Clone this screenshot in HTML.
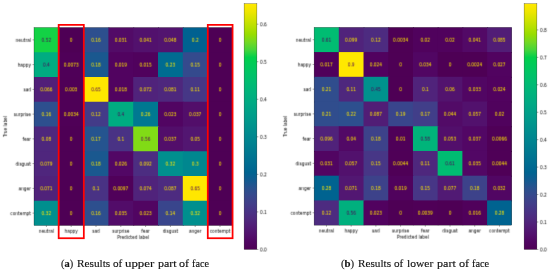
<!DOCTYPE html>
<html><head><meta charset="utf-8"><title>Confusion matrices</title>
<style>
html,body{margin:0;padding:0;background:#fff;}
body{width:550px;height:273px;overflow:hidden;position:relative;}
svg{position:absolute;left:0;top:0;display:block;}
.tx{position:absolute;left:0;top:0;width:5500px;height:2730px;transform:scale(0.1);transform-origin:0 0;font-family:"DejaVu Sans","Liberation Sans",sans-serif;font-size:43.0px;line-height:1;color:#000;}
.txw{position:absolute;left:0;top:0;width:550px;height:273px;overflow:hidden;}
.t{position:absolute;white-space:nowrap;display:block;}
.m{transform:translateX(-50%);}
.e{transform:translateX(-100%);}
.r{transform:translate(-50%,-50%) rotate(-90deg);}
.cap{position:absolute;left:0;top:0;font-family:"Liberation Serif",serif;font-size:10.6px;line-height:12px;color:#111;white-space:nowrap;-webkit-text-stroke:0.13px #111;}
.cap span{position:absolute;top:258.40px;transform-origin:0 50%;display:block;}
</style></head><body>
<svg width="550" height="273" viewBox="0 0 550 273">
<defs><filter id="s0" x="0" y="0" width="100%" height="100%" color-interpolation-filters="sRGB"><feConvolveMatrix order="3" kernelMatrix="0.0591 0.3743 0.0591 0.0609 0.3857 0.0609 0.0000 0.0000 0.0000" divisor="1" edgeMode="duplicate" preserveAlpha="false"/></filter><filter id="s1" x="0" y="0" width="100%" height="100%" color-interpolation-filters="sRGB"><feConvolveMatrix order="3" kernelMatrix="0.0480 0.3040 0.0480 0.0720 0.4560 0.0720 0.0000 0.0000 0.0000" divisor="1" edgeMode="duplicate" preserveAlpha="false"/></filter><filter id="s2" x="0" y="0" width="100%" height="100%" color-interpolation-filters="sRGB"><feConvolveMatrix order="3" kernelMatrix="0.0378 0.2394 0.0378 0.0804 0.5092 0.0804 0.0018 0.0114 0.0018" divisor="1" edgeMode="duplicate" preserveAlpha="false"/></filter><filter id="s3" x="0" y="0" width="100%" height="100%" color-interpolation-filters="sRGB"><feConvolveMatrix order="3" kernelMatrix="0.0288 0.1824 0.0288 0.0864 0.5472 0.0864 0.0048 0.0304 0.0048" divisor="1" edgeMode="duplicate" preserveAlpha="false"/></filter><filter id="s4" x="0" y="0" width="100%" height="100%" color-interpolation-filters="sRGB"><feConvolveMatrix order="3" kernelMatrix="0.0210 0.1330 0.0210 0.0900 0.5700 0.0900 0.0090 0.0570 0.0090" divisor="1" edgeMode="duplicate" preserveAlpha="false"/></filter><filter id="s5" x="0" y="0" width="100%" height="100%" color-interpolation-filters="sRGB"><feConvolveMatrix order="3" kernelMatrix="0.0144 0.0912 0.0144 0.0912 0.5776 0.0912 0.0144 0.0912 0.0144" divisor="1" edgeMode="duplicate" preserveAlpha="false"/></filter><filter id="s6" x="0" y="0" width="100%" height="100%" color-interpolation-filters="sRGB"><feConvolveMatrix order="3" kernelMatrix="0.0090 0.0570 0.0090 0.0900 0.5700 0.0900 0.0210 0.1330 0.0210" divisor="1" edgeMode="duplicate" preserveAlpha="false"/></filter><filter id="s7" x="0" y="0" width="100%" height="100%" color-interpolation-filters="sRGB"><feConvolveMatrix order="3" kernelMatrix="0.0048 0.0304 0.0048 0.0864 0.5472 0.0864 0.0288 0.1824 0.0288" divisor="1" edgeMode="duplicate" preserveAlpha="false"/></filter><filter id="s8" x="0" y="0" width="100%" height="100%" color-interpolation-filters="sRGB"><feConvolveMatrix order="3" kernelMatrix="0.0018 0.0114 0.0018 0.0804 0.5092 0.0804 0.0378 0.2394 0.0378" divisor="1" edgeMode="duplicate" preserveAlpha="false"/></filter><filter id="s9" x="0" y="0" width="100%" height="100%" color-interpolation-filters="sRGB"><feConvolveMatrix order="3" kernelMatrix="0.0000 0.0000 0.0000 0.0720 0.4560 0.0720 0.0480 0.3040 0.0480" divisor="1" edgeMode="duplicate" preserveAlpha="false"/></filter><filter id="s10" x="0" y="0" width="100%" height="100%" color-interpolation-filters="sRGB"><feConvolveMatrix order="3" kernelMatrix="0.0000 0.0000 0.0000 0.0609 0.3857 0.0609 0.0591 0.3743 0.0591" divisor="1" edgeMode="duplicate" preserveAlpha="false"/></filter></defs>
<rect x="34.00" y="27.50" width="25.80" height="25.75" fill="#13d245"/>
<rect x="58.80" y="27.50" width="25.80" height="25.75" fill="#4e0055"/>
<rect x="83.60" y="27.50" width="25.80" height="25.75" fill="#2d4f8e"/>
<rect x="108.40" y="27.50" width="25.80" height="25.75" fill="#520b67"/>
<rect x="133.20" y="27.50" width="25.80" height="25.75" fill="#52116d"/>
<rect x="158.00" y="27.50" width="25.80" height="25.75" fill="#52146f"/>
<rect x="182.80" y="27.50" width="25.80" height="25.75" fill="#006190"/>
<rect x="207.60" y="27.50" width="24.80" height="25.75" fill="#4e0055"/>
<rect x="34.00" y="52.25" width="25.80" height="25.75" fill="#00ac81"/>
<rect x="58.80" y="52.25" width="25.80" height="25.75" fill="#4f0058"/>
<rect x="83.60" y="52.25" width="25.80" height="25.75" fill="#1a588f"/>
<rect x="108.40" y="52.25" width="25.80" height="25.75" fill="#510360"/>
<rect x="133.20" y="52.25" width="25.80" height="25.75" fill="#50025d"/>
<rect x="158.00" y="52.25" width="25.80" height="25.75" fill="#006c91"/>
<rect x="182.80" y="52.25" width="25.80" height="25.75" fill="#344a8d"/>
<rect x="207.60" y="52.25" width="24.80" height="25.75" fill="#4e0055"/>
<rect x="34.00" y="77.00" width="25.80" height="25.75" fill="#511f78"/>
<rect x="58.80" y="77.00" width="25.80" height="25.75" fill="#4f0057"/>
<rect x="83.60" y="77.00" width="25.80" height="25.75" fill="#ffe700"/>
<rect x="108.40" y="77.00" width="25.80" height="25.75" fill="#510360"/>
<rect x="133.20" y="77.00" width="25.80" height="25.75" fill="#50237b"/>
<rect x="158.00" y="77.00" width="25.80" height="25.75" fill="#4e277d"/>
<rect x="182.80" y="77.00" width="25.80" height="25.75" fill="#463786"/>
<rect x="207.60" y="77.00" width="24.80" height="25.75" fill="#4e0055"/>
<rect x="34.00" y="101.75" width="25.80" height="25.75" fill="#2d4f8e"/>
<rect x="58.80" y="101.75" width="25.80" height="25.75" fill="#4f0057"/>
<rect x="83.60" y="101.75" width="25.80" height="25.75" fill="#433b88"/>
<rect x="108.40" y="101.75" width="25.80" height="25.75" fill="#00ac81"/>
<rect x="133.20" y="101.75" width="25.80" height="25.75" fill="#007891"/>
<rect x="158.00" y="101.75" width="25.80" height="25.75" fill="#510562"/>
<rect x="182.80" y="101.75" width="25.80" height="25.75" fill="#520e6a"/>
<rect x="207.60" y="101.75" width="24.80" height="25.75" fill="#4e0055"/>
<rect x="34.00" y="126.50" width="25.80" height="25.75" fill="#4e277d"/>
<rect x="58.80" y="126.50" width="25.80" height="25.75" fill="#4e0055"/>
<rect x="83.60" y="126.50" width="25.80" height="25.75" fill="#25548f"/>
<rect x="108.40" y="126.50" width="25.80" height="25.75" fill="#493284"/>
<rect x="133.20" y="126.50" width="25.80" height="25.75" fill="#81db16"/>
<rect x="158.00" y="126.50" width="25.80" height="25.75" fill="#520e6a"/>
<rect x="182.80" y="126.50" width="25.80" height="25.75" fill="#521671"/>
<rect x="207.60" y="126.50" width="24.80" height="25.75" fill="#4e0055"/>
<rect x="34.00" y="151.25" width="25.80" height="25.75" fill="#4f267d"/>
<rect x="58.80" y="151.25" width="25.80" height="25.75" fill="#4e0055"/>
<rect x="83.60" y="151.25" width="25.80" height="25.75" fill="#1a588f"/>
<rect x="108.40" y="151.25" width="25.80" height="25.75" fill="#520765"/>
<rect x="133.20" y="151.25" width="25.80" height="25.75" fill="#4c2d81"/>
<rect x="158.00" y="151.25" width="25.80" height="25.75" fill="#008f8e"/>
<rect x="182.80" y="151.25" width="25.80" height="25.75" fill="#00878f"/>
<rect x="207.60" y="151.25" width="24.80" height="25.75" fill="#4e0055"/>
<rect x="34.00" y="176.00" width="25.80" height="25.75" fill="#50227a"/>
<rect x="58.80" y="176.00" width="25.80" height="25.75" fill="#4e0055"/>
<rect x="83.60" y="176.00" width="25.80" height="25.75" fill="#493284"/>
<rect x="108.40" y="176.00" width="25.80" height="25.75" fill="#50015a"/>
<rect x="133.20" y="176.00" width="25.80" height="25.75" fill="#50237b"/>
<rect x="158.00" y="176.00" width="25.80" height="25.75" fill="#4d2b80"/>
<rect x="182.80" y="176.00" width="25.80" height="25.75" fill="#ffe700"/>
<rect x="207.60" y="176.00" width="24.80" height="25.75" fill="#4e0055"/>
<rect x="34.00" y="200.75" width="25.80" height="24.75" fill="#008f8e"/>
<rect x="58.80" y="200.75" width="25.80" height="24.75" fill="#4e0055"/>
<rect x="83.60" y="200.75" width="25.80" height="24.75" fill="#2d4f8e"/>
<rect x="108.40" y="200.75" width="25.80" height="24.75" fill="#520c69"/>
<rect x="133.20" y="200.75" width="25.80" height="24.75" fill="#510562"/>
<rect x="158.00" y="200.75" width="25.80" height="24.75" fill="#39458c"/>
<rect x="182.80" y="200.75" width="25.80" height="24.75" fill="#008f8e"/>
<rect x="207.60" y="200.75" width="24.80" height="24.75" fill="#4e0055"/>
<rect x="34.00" y="27.50" width="198.40" height="198.00" fill="none" stroke="#000" stroke-opacity="0.75" stroke-width="0.35"/>
<line x1="32.50" y1="39.88" x2="34.00" y2="39.88" stroke="#000" stroke-width="0.35"/>
<line x1="46.40" y1="225.50" x2="46.40" y2="227.00" stroke="#000" stroke-width="0.35"/>
<line x1="32.50" y1="64.62" x2="34.00" y2="64.62" stroke="#000" stroke-width="0.35"/>
<line x1="71.20" y1="225.50" x2="71.20" y2="227.00" stroke="#000" stroke-width="0.35"/>
<line x1="32.50" y1="89.38" x2="34.00" y2="89.38" stroke="#000" stroke-width="0.35"/>
<line x1="96.00" y1="225.50" x2="96.00" y2="227.00" stroke="#000" stroke-width="0.35"/>
<line x1="32.50" y1="114.12" x2="34.00" y2="114.12" stroke="#000" stroke-width="0.35"/>
<line x1="120.80" y1="225.50" x2="120.80" y2="227.00" stroke="#000" stroke-width="0.35"/>
<line x1="32.50" y1="138.88" x2="34.00" y2="138.88" stroke="#000" stroke-width="0.35"/>
<line x1="145.60" y1="225.50" x2="145.60" y2="227.00" stroke="#000" stroke-width="0.35"/>
<line x1="32.50" y1="163.62" x2="34.00" y2="163.62" stroke="#000" stroke-width="0.35"/>
<line x1="170.40" y1="225.50" x2="170.40" y2="227.00" stroke="#000" stroke-width="0.35"/>
<line x1="32.50" y1="188.38" x2="34.00" y2="188.38" stroke="#000" stroke-width="0.35"/>
<line x1="195.20" y1="225.50" x2="195.20" y2="227.00" stroke="#000" stroke-width="0.35"/>
<line x1="32.50" y1="213.12" x2="34.00" y2="213.12" stroke="#000" stroke-width="0.35"/>
<line x1="220.00" y1="225.50" x2="220.00" y2="227.00" stroke="#000" stroke-width="0.35"/>
<defs><linearGradient id="ga" x1="0" y1="0" x2="0" y2="1"><stop offset="0.0000" stop-color="#ffe800"/><stop offset="0.0312" stop-color="#efe600"/><stop offset="0.0625" stop-color="#d4e300"/><stop offset="0.0938" stop-color="#b7e000"/><stop offset="0.1250" stop-color="#97dd00"/><stop offset="0.1562" stop-color="#73d923"/><stop offset="0.1875" stop-color="#46d53a"/><stop offset="0.2188" stop-color="#00d04b"/><stop offset="0.2500" stop-color="#00ca59"/><stop offset="0.2812" stop-color="#00c465"/><stop offset="0.3125" stop-color="#00be6f"/><stop offset="0.3438" stop-color="#00b778"/><stop offset="0.3750" stop-color="#00b07e"/><stop offset="0.4062" stop-color="#00a984"/><stop offset="0.4375" stop-color="#00a188"/><stop offset="0.4688" stop-color="#009a8b"/><stop offset="0.5000" stop-color="#00928d"/><stop offset="0.5312" stop-color="#008a8f"/><stop offset="0.5625" stop-color="#008390"/><stop offset="0.5938" stop-color="#007b90"/><stop offset="0.6250" stop-color="#007391"/><stop offset="0.6562" stop-color="#006b91"/><stop offset="0.6875" stop-color="#006390"/><stop offset="0.7188" stop-color="#125a90"/><stop offset="0.7500" stop-color="#29518e"/><stop offset="0.7812" stop-color="#37488c"/><stop offset="0.8125" stop-color="#413e89"/><stop offset="0.8438" stop-color="#483385"/><stop offset="0.8750" stop-color="#4e297e"/><stop offset="0.9062" stop-color="#511d76"/><stop offset="0.9375" stop-color="#52116d"/><stop offset="0.9688" stop-color="#510562"/><stop offset="1.0000" stop-color="#4e0055"/></linearGradient></defs>
<rect x="244.10" y="3.70" width="12.80" height="245.75" fill="url(#ga)" stroke="#000" stroke-opacity="0.75" stroke-width="0.35"/>
<line x1="256.90" y1="249.45" x2="258.40" y2="249.45" stroke="#000" stroke-width="0.35"/>
<line x1="256.90" y1="211.91" x2="258.40" y2="211.91" stroke="#000" stroke-width="0.35"/>
<line x1="256.90" y1="174.37" x2="258.40" y2="174.37" stroke="#000" stroke-width="0.35"/>
<line x1="256.90" y1="136.82" x2="258.40" y2="136.82" stroke="#000" stroke-width="0.35"/>
<line x1="256.90" y1="99.28" x2="258.40" y2="99.28" stroke="#000" stroke-width="0.35"/>
<line x1="256.90" y1="61.74" x2="258.40" y2="61.74" stroke="#000" stroke-width="0.35"/>
<line x1="256.90" y1="24.20" x2="258.40" y2="24.20" stroke="#000" stroke-width="0.35"/>
<rect x="58.67" y="24.88" width="25.15" height="213.35" fill="none" stroke="#ff0000" stroke-width="1.75"/>
<rect x="207.78" y="24.88" width="24.80" height="213.35" fill="none" stroke="#ff0000" stroke-width="1.75"/>
<rect x="314.10" y="27.35" width="25.71" height="25.73" fill="#00bc72"/>
<rect x="338.81" y="27.35" width="25.71" height="25.73" fill="#50237b"/>
<rect x="363.53" y="27.35" width="25.71" height="25.73" fill="#4d2b80"/>
<rect x="388.24" y="27.35" width="25.71" height="25.73" fill="#4e0055"/>
<rect x="412.95" y="27.35" width="25.71" height="25.73" fill="#50025d"/>
<rect x="437.66" y="27.35" width="25.71" height="25.73" fill="#50025d"/>
<rect x="462.38" y="27.35" width="25.71" height="25.73" fill="#520966"/>
<rect x="487.09" y="27.35" width="24.71" height="25.73" fill="#511d76"/>
<rect x="314.10" y="52.08" width="25.71" height="25.73" fill="#50015b"/>
<rect x="338.81" y="52.08" width="25.71" height="25.73" fill="#ffe800"/>
<rect x="363.53" y="52.08" width="25.71" height="25.73" fill="#51025f"/>
<rect x="388.24" y="52.08" width="25.71" height="25.73" fill="#4e0055"/>
<rect x="412.95" y="52.08" width="25.71" height="25.73" fill="#510663"/>
<rect x="437.66" y="52.08" width="25.71" height="25.73" fill="#4e0055"/>
<rect x="462.38" y="52.08" width="25.71" height="25.73" fill="#4e0055"/>
<rect x="487.09" y="52.08" width="24.71" height="25.73" fill="#510360"/>
<rect x="314.10" y="76.80" width="25.71" height="25.73" fill="#304d8d"/>
<rect x="338.81" y="76.80" width="25.71" height="25.73" fill="#4e277d"/>
<rect x="363.53" y="76.80" width="25.71" height="25.73" fill="#00928d"/>
<rect x="388.24" y="76.80" width="25.71" height="25.73" fill="#4e0055"/>
<rect x="412.95" y="76.80" width="25.71" height="25.73" fill="#50237b"/>
<rect x="437.66" y="76.80" width="25.71" height="25.73" fill="#52136e"/>
<rect x="462.38" y="76.80" width="25.71" height="25.73" fill="#510663"/>
<rect x="487.09" y="76.80" width="24.71" height="25.73" fill="#51025f"/>
<rect x="314.10" y="101.53" width="25.71" height="25.73" fill="#304d8d"/>
<rect x="338.81" y="101.53" width="25.71" height="25.73" fill="#2d4f8e"/>
<rect x="363.53" y="101.53" width="25.71" height="25.73" fill="#511d76"/>
<rect x="388.24" y="101.53" width="25.71" height="25.73" fill="#39458c"/>
<rect x="412.95" y="101.53" width="25.71" height="25.73" fill="#413e89"/>
<rect x="437.66" y="101.53" width="25.71" height="25.73" fill="#520b67"/>
<rect x="462.38" y="101.53" width="25.71" height="25.73" fill="#52116d"/>
<rect x="487.09" y="101.53" width="24.71" height="25.73" fill="#50025d"/>
<rect x="314.10" y="126.25" width="25.71" height="25.73" fill="#50227a"/>
<rect x="338.81" y="126.25" width="25.71" height="25.73" fill="#520966"/>
<rect x="363.53" y="126.25" width="25.71" height="25.73" fill="#3d428a"/>
<rect x="388.24" y="126.25" width="25.71" height="25.73" fill="#4f0058"/>
<rect x="412.95" y="126.25" width="25.71" height="25.73" fill="#00b47a"/>
<rect x="437.66" y="126.25" width="25.71" height="25.73" fill="#520f6b"/>
<rect x="462.38" y="126.25" width="25.71" height="25.73" fill="#520765"/>
<rect x="487.09" y="126.25" width="24.71" height="25.73" fill="#4f0057"/>
<rect x="314.10" y="150.97" width="25.71" height="25.73" fill="#510562"/>
<rect x="338.81" y="150.97" width="25.71" height="25.73" fill="#52116d"/>
<rect x="363.53" y="150.97" width="25.71" height="25.73" fill="#473686"/>
<rect x="388.24" y="150.97" width="25.71" height="25.73" fill="#4f0057"/>
<rect x="412.95" y="150.97" width="25.71" height="25.73" fill="#4e277d"/>
<rect x="437.66" y="150.97" width="25.71" height="25.73" fill="#00bc72"/>
<rect x="462.38" y="150.97" width="25.71" height="25.73" fill="#520765"/>
<rect x="487.09" y="150.97" width="24.71" height="25.73" fill="#4f0057"/>
<rect x="314.10" y="175.70" width="25.71" height="25.73" fill="#006390"/>
<rect x="338.81" y="175.70" width="25.71" height="25.73" fill="#521772"/>
<rect x="363.53" y="175.70" width="25.71" height="25.73" fill="#3d428a"/>
<rect x="388.24" y="175.70" width="25.71" height="25.73" fill="#50025d"/>
<rect x="412.95" y="175.70" width="25.71" height="25.73" fill="#473686"/>
<rect x="437.66" y="175.70" width="25.71" height="25.73" fill="#511a74"/>
<rect x="462.38" y="175.70" width="25.71" height="25.73" fill="#3d428a"/>
<rect x="487.09" y="175.70" width="24.71" height="25.73" fill="#510663"/>
<rect x="314.10" y="200.43" width="25.71" height="24.73" fill="#4d2b80"/>
<rect x="338.81" y="200.43" width="25.71" height="24.73" fill="#00b07e"/>
<rect x="363.53" y="200.43" width="25.71" height="24.73" fill="#51025f"/>
<rect x="388.24" y="200.43" width="25.71" height="24.73" fill="#4e0055"/>
<rect x="412.95" y="200.43" width="25.71" height="24.73" fill="#4f0057"/>
<rect x="437.66" y="200.43" width="25.71" height="24.73" fill="#4e0055"/>
<rect x="462.38" y="200.43" width="25.71" height="24.73" fill="#50015b"/>
<rect x="487.09" y="200.43" width="24.71" height="24.73" fill="#006390"/>
<rect x="314.10" y="27.35" width="197.70" height="197.80" fill="none" stroke="#000" stroke-opacity="0.75" stroke-width="0.35"/>
<line x1="312.60" y1="39.71" x2="314.10" y2="39.71" stroke="#000" stroke-width="0.35"/>
<line x1="326.46" y1="225.15" x2="326.46" y2="226.65" stroke="#000" stroke-width="0.35"/>
<line x1="312.60" y1="64.44" x2="314.10" y2="64.44" stroke="#000" stroke-width="0.35"/>
<line x1="351.17" y1="225.15" x2="351.17" y2="226.65" stroke="#000" stroke-width="0.35"/>
<line x1="312.60" y1="89.16" x2="314.10" y2="89.16" stroke="#000" stroke-width="0.35"/>
<line x1="375.88" y1="225.15" x2="375.88" y2="226.65" stroke="#000" stroke-width="0.35"/>
<line x1="312.60" y1="113.89" x2="314.10" y2="113.89" stroke="#000" stroke-width="0.35"/>
<line x1="400.59" y1="225.15" x2="400.59" y2="226.65" stroke="#000" stroke-width="0.35"/>
<line x1="312.60" y1="138.61" x2="314.10" y2="138.61" stroke="#000" stroke-width="0.35"/>
<line x1="425.31" y1="225.15" x2="425.31" y2="226.65" stroke="#000" stroke-width="0.35"/>
<line x1="312.60" y1="163.34" x2="314.10" y2="163.34" stroke="#000" stroke-width="0.35"/>
<line x1="450.02" y1="225.15" x2="450.02" y2="226.65" stroke="#000" stroke-width="0.35"/>
<line x1="312.60" y1="188.06" x2="314.10" y2="188.06" stroke="#000" stroke-width="0.35"/>
<line x1="474.73" y1="225.15" x2="474.73" y2="226.65" stroke="#000" stroke-width="0.35"/>
<line x1="312.60" y1="212.79" x2="314.10" y2="212.79" stroke="#000" stroke-width="0.35"/>
<line x1="499.44" y1="225.15" x2="499.44" y2="226.65" stroke="#000" stroke-width="0.35"/>
<defs><linearGradient id="gb" x1="0" y1="0" x2="0" y2="1"><stop offset="0.0000" stop-color="#ffe800"/><stop offset="0.0312" stop-color="#efe600"/><stop offset="0.0625" stop-color="#d4e300"/><stop offset="0.0938" stop-color="#b7e000"/><stop offset="0.1250" stop-color="#97dd00"/><stop offset="0.1562" stop-color="#73d923"/><stop offset="0.1875" stop-color="#46d53a"/><stop offset="0.2188" stop-color="#00d04b"/><stop offset="0.2500" stop-color="#00ca59"/><stop offset="0.2812" stop-color="#00c465"/><stop offset="0.3125" stop-color="#00be6f"/><stop offset="0.3438" stop-color="#00b778"/><stop offset="0.3750" stop-color="#00b07e"/><stop offset="0.4062" stop-color="#00a984"/><stop offset="0.4375" stop-color="#00a188"/><stop offset="0.4688" stop-color="#009a8b"/><stop offset="0.5000" stop-color="#00928d"/><stop offset="0.5312" stop-color="#008a8f"/><stop offset="0.5625" stop-color="#008390"/><stop offset="0.5938" stop-color="#007b90"/><stop offset="0.6250" stop-color="#007391"/><stop offset="0.6562" stop-color="#006b91"/><stop offset="0.6875" stop-color="#006390"/><stop offset="0.7188" stop-color="#125a90"/><stop offset="0.7500" stop-color="#29518e"/><stop offset="0.7812" stop-color="#37488c"/><stop offset="0.8125" stop-color="#413e89"/><stop offset="0.8438" stop-color="#483385"/><stop offset="0.8750" stop-color="#4e297e"/><stop offset="0.9062" stop-color="#511d76"/><stop offset="0.9375" stop-color="#52116d"/><stop offset="0.9688" stop-color="#510562"/><stop offset="1.0000" stop-color="#4e0055"/></linearGradient></defs>
<rect x="524.10" y="3.70" width="12.80" height="245.75" fill="url(#gb)" stroke="#000" stroke-opacity="0.75" stroke-width="0.35"/>
<line x1="536.90" y1="249.45" x2="538.40" y2="249.45" stroke="#000" stroke-width="0.35"/>
<line x1="536.90" y1="222.01" x2="538.40" y2="222.01" stroke="#000" stroke-width="0.35"/>
<line x1="536.90" y1="194.56" x2="538.40" y2="194.56" stroke="#000" stroke-width="0.35"/>
<line x1="536.90" y1="167.12" x2="538.40" y2="167.12" stroke="#000" stroke-width="0.35"/>
<line x1="536.90" y1="139.68" x2="538.40" y2="139.68" stroke="#000" stroke-width="0.35"/>
<line x1="536.90" y1="112.24" x2="538.40" y2="112.24" stroke="#000" stroke-width="0.35"/>
<line x1="536.90" y1="84.79" x2="538.40" y2="84.79" stroke="#000" stroke-width="0.35"/>
<line x1="536.90" y1="57.35" x2="538.40" y2="57.35" stroke="#000" stroke-width="0.35"/>
<line x1="536.90" y1="29.91" x2="538.40" y2="29.91" stroke="#000" stroke-width="0.35"/>
</svg>
<div class="txw" style="filter:url(#s0)"><div class="tx">
<span class="t" style="left:2599.0px;top:2483.6px;">0.0</span>
<span class="t" style="left:5399.0px;top:2483.6px;">0.0</span>
</div></div>
<div class="txw" style="filter:url(#s1)"><div class="tx">
<span class="t m" style="left:464.0px;top:633.6px;color:#4e0055;">0.4</span>
<span class="t m" style="left:712.0px;top:633.6px;color:#ffe800;">0.0073</span>
<span class="t m" style="left:960.0px;top:633.6px;color:#ffe800;">0.18</span>
<span class="t m" style="left:1208.0px;top:633.6px;color:#ffe800;">0.019</span>
<span class="t m" style="left:1456.0px;top:633.6px;color:#ffe800;">0.015</span>
<span class="t m" style="left:1704.0px;top:633.6px;color:#ffe800;">0.23</span>
<span class="t m" style="left:1952.0px;top:633.6px;color:#ffe800;">0.15</span>
<span class="t m" style="left:2200.0px;top:633.6px;color:#ffe800;">0</span>
<span class="t m" style="left:464.0px;top:1623.6px;color:#ffe800;">0.079</span>
<span class="t m" style="left:712.0px;top:1623.6px;color:#ffe800;">0</span>
<span class="t m" style="left:960.0px;top:1623.6px;color:#ffe800;">0.18</span>
<span class="t m" style="left:1208.0px;top:1623.6px;color:#ffe800;">0.026</span>
<span class="t m" style="left:1456.0px;top:1623.6px;color:#ffe800;">0.092</span>
<span class="t m" style="left:1704.0px;top:1623.6px;color:#ffe800;">0.32</span>
<span class="t m" style="left:1952.0px;top:1623.6px;color:#ffe800;">0.3</span>
<span class="t m" style="left:2200.0px;top:1623.6px;color:#ffe800;">0</span>
<span class="t m" style="left:3264.6px;top:1373.6px;color:#ffe800;">0.096</span>
<span class="t m" style="left:3511.7px;top:1373.6px;color:#ffe800;">0.04</span>
<span class="t m" style="left:3758.8px;top:1373.6px;color:#ffe800;">0.18</span>
<span class="t m" style="left:4005.9px;top:1373.6px;color:#ffe800;">0.01</span>
<span class="t m" style="left:4253.1px;top:1373.6px;color:#4e0055;">0.58</span>
<span class="t m" style="left:4500.2px;top:1373.6px;color:#ffe800;">0.053</span>
<span class="t m" style="left:4747.3px;top:1373.6px;color:#ffe800;">0.037</span>
<span class="t m" style="left:4994.4px;top:1373.6px;color:#ffe800;">0.0066</span>
</div></div>
<div class="txw" style="filter:url(#s2)"><div class="tx">
<span class="t e" style="left:310.0px;top:633.6px;">happy</span>
<span class="t e" style="left:310.0px;top:1623.6px;">disgust</span>
<span class="t m" style="left:3264.6px;top:383.6px;color:#4e0055;">0.61</span>
<span class="t m" style="left:3511.7px;top:383.6px;color:#ffe800;">0.099</span>
<span class="t m" style="left:3758.8px;top:383.6px;color:#ffe800;">0.12</span>
<span class="t m" style="left:4005.9px;top:383.6px;color:#ffe800;">0.0034</span>
<span class="t m" style="left:4253.1px;top:383.6px;color:#ffe800;">0.02</span>
<span class="t m" style="left:4500.2px;top:383.6px;color:#ffe800;">0.02</span>
<span class="t m" style="left:4747.3px;top:383.6px;color:#ffe800;">0.041</span>
<span class="t m" style="left:4994.4px;top:383.6px;color:#ffe800;">0.085</span>
<span class="t m" style="left:3264.6px;top:2113.6px;color:#ffe800;">0.12</span>
<span class="t m" style="left:3511.7px;top:2113.6px;color:#4e0055;">0.56</span>
<span class="t m" style="left:3758.8px;top:2113.6px;color:#ffe800;">0.023</span>
<span class="t m" style="left:4005.9px;top:2113.6px;color:#ffe800;">0</span>
<span class="t m" style="left:4253.1px;top:2113.6px;color:#ffe800;">0.0039</span>
<span class="t m" style="left:4500.2px;top:2113.6px;color:#ffe800;">0</span>
<span class="t m" style="left:4747.3px;top:2113.6px;color:#ffe800;">0.016</span>
<span class="t m" style="left:4994.4px;top:2113.6px;color:#ffe800;">0.28</span>
<span class="t e" style="left:3111.0px;top:1373.6px;">fear</span>
<span class="t m" style="left:4129.5px;top:2353.6px;">Predicted label</span>
<span class="t" style="left:5399.0px;top:1933.6px;">0.2</span>
</div></div>
<div class="txw" style="filter:url(#s3)"><div class="tx">
<span class="t m" style="left:464.0px;top:383.6px;color:#4e0055;">0.52</span>
<span class="t m" style="left:712.0px;top:383.6px;color:#ffe800;">0</span>
<span class="t m" style="left:960.0px;top:383.6px;color:#ffe800;">0.16</span>
<span class="t m" style="left:1208.0px;top:383.6px;color:#ffe800;">0.031</span>
<span class="t m" style="left:1456.0px;top:383.6px;color:#ffe800;">0.041</span>
<span class="t m" style="left:1704.0px;top:383.6px;color:#ffe800;">0.048</span>
<span class="t m" style="left:1952.0px;top:383.6px;color:#ffe800;">0.2</span>
<span class="t m" style="left:2200.0px;top:383.6px;color:#ffe800;">0</span>
<span class="t m" style="left:464.0px;top:1373.6px;color:#ffe800;">0.08</span>
<span class="t m" style="left:712.0px;top:1373.6px;color:#ffe800;">0</span>
<span class="t m" style="left:960.0px;top:1373.6px;color:#ffe800;">0.17</span>
<span class="t m" style="left:1208.0px;top:1373.6px;color:#ffe800;">0.1</span>
<span class="t m" style="left:1456.0px;top:1373.6px;color:#4e0055;">0.56</span>
<span class="t m" style="left:1704.0px;top:1373.6px;color:#ffe800;">0.037</span>
<span class="t m" style="left:1952.0px;top:1373.6px;color:#ffe800;">0.05</span>
<span class="t m" style="left:2200.0px;top:1373.6px;color:#ffe800;">0</span>
<span class="t m" style="left:464.0px;top:2293.6px;">neutral</span>
<span class="t m" style="left:712.0px;top:2293.6px;">happy</span>
<span class="t m" style="left:960.0px;top:2293.6px;">sad</span>
<span class="t m" style="left:1208.0px;top:2293.6px;">surprise</span>
<span class="t m" style="left:1456.0px;top:2293.6px;">fear</span>
<span class="t m" style="left:1704.0px;top:2293.6px;">disgust</span>
<span class="t m" style="left:1952.0px;top:2293.6px;">anger</span>
<span class="t m" style="left:2200.0px;top:2293.6px;">contempt</span>
<span class="t" style="left:2599.0px;top:603.6px;">0.5</span>
<span class="t m" style="left:3264.6px;top:1123.6px;color:#ffe800;">0.21</span>
<span class="t m" style="left:3511.7px;top:1123.6px;color:#ffe800;">0.22</span>
<span class="t m" style="left:3758.8px;top:1123.6px;color:#ffe800;">0.087</span>
<span class="t m" style="left:4005.9px;top:1123.6px;color:#ffe800;">0.19</span>
<span class="t m" style="left:4253.1px;top:1123.6px;color:#ffe800;">0.17</span>
<span class="t m" style="left:4500.2px;top:1123.6px;color:#ffe800;">0.044</span>
<span class="t m" style="left:4747.3px;top:1123.6px;color:#ffe800;">0.057</span>
<span class="t m" style="left:4994.4px;top:1123.6px;color:#ffe800;">0.02</span>
<span class="t e" style="left:3111.0px;top:383.6px;">neutral</span>
<span class="t e" style="left:3111.0px;top:2113.6px;">contempt</span>
<span class="t" style="left:5399.0px;top:1383.6px;">0.4</span>
</div></div>
<div class="txw" style="filter:url(#s4)"><div class="tx">
<span class="t e" style="left:310.0px;top:383.6px;">neutral</span>
<span class="t e" style="left:310.0px;top:1373.6px;">fear</span>
<span class="t" style="left:2599.0px;top:1353.6px;">0.3</span>
<span class="t e" style="left:3111.0px;top:1123.6px;">surprise</span>
<span class="t" style="left:5399.0px;top:833.6px;">0.6</span>
</div></div>
<div class="txw" style="filter:url(#s5)"><div class="tx">
<span class="t m" style="left:1332.0px;top:2353.6px;">Predicted label</span>
<span class="t r" style="left:52.0px;top:1265.0px;">True label</span>
<span class="t" style="left:2599.0px;top:2103.6px;">0.1</span>
<span class="t m" style="left:3264.6px;top:1863.6px;color:#ffe800;">0.28</span>
<span class="t m" style="left:3511.7px;top:1863.6px;color:#ffe800;">0.071</span>
<span class="t m" style="left:3758.8px;top:1863.6px;color:#ffe800;">0.18</span>
<span class="t m" style="left:4005.9px;top:1863.6px;color:#ffe800;">0.019</span>
<span class="t m" style="left:4253.1px;top:1863.6px;color:#ffe800;">0.15</span>
<span class="t m" style="left:4500.2px;top:1863.6px;color:#ffe800;">0.077</span>
<span class="t m" style="left:4747.3px;top:1863.6px;color:#ffe800;">0.18</span>
<span class="t m" style="left:4994.4px;top:1863.6px;color:#ffe800;">0.032</span>
<span class="t r" style="left:2853.0px;top:1262.5px;">True label</span>
<span class="t" style="left:5399.0px;top:283.6px;">0.8</span>
</div></div>
<div class="txw" style="filter:url(#s6)"><div class="tx">
<span class="t m" style="left:464.0px;top:1123.6px;color:#ffe800;">0.16</span>
<span class="t m" style="left:712.0px;top:1123.6px;color:#ffe800;">0.0034</span>
<span class="t m" style="left:960.0px;top:1123.6px;color:#ffe800;">0.12</span>
<span class="t m" style="left:1208.0px;top:1123.6px;color:#4e0055;">0.4</span>
<span class="t m" style="left:1456.0px;top:1123.6px;color:#ffe800;">0.26</span>
<span class="t m" style="left:1704.0px;top:1123.6px;color:#ffe800;">0.023</span>
<span class="t m" style="left:1952.0px;top:1123.6px;color:#ffe800;">0.037</span>
<span class="t m" style="left:2200.0px;top:1123.6px;color:#ffe800;">0</span>
<span class="t m" style="left:464.0px;top:2113.6px;color:#ffe800;">0.32</span>
<span class="t m" style="left:712.0px;top:2113.6px;color:#ffe800;">0</span>
<span class="t m" style="left:960.0px;top:2113.6px;color:#ffe800;">0.16</span>
<span class="t m" style="left:1208.0px;top:2113.6px;color:#ffe800;">0.035</span>
<span class="t m" style="left:1456.0px;top:2113.6px;color:#ffe800;">0.023</span>
<span class="t m" style="left:1704.0px;top:2113.6px;color:#ffe800;">0.14</span>
<span class="t m" style="left:1952.0px;top:2113.6px;color:#ffe800;">0.32</span>
<span class="t m" style="left:2200.0px;top:2113.6px;color:#ffe800;">0</span>
<span class="t m" style="left:3264.6px;top:873.6px;color:#ffe800;">0.21</span>
<span class="t m" style="left:3511.7px;top:873.6px;color:#ffe800;">0.11</span>
<span class="t m" style="left:3758.8px;top:873.6px;color:#4e0055;">0.45</span>
<span class="t m" style="left:4005.9px;top:873.6px;color:#ffe800;">0</span>
<span class="t m" style="left:4253.1px;top:873.6px;color:#ffe800;">0.1</span>
<span class="t m" style="left:4500.2px;top:873.6px;color:#ffe800;">0.06</span>
<span class="t m" style="left:4747.3px;top:873.6px;color:#ffe800;">0.033</span>
<span class="t m" style="left:4994.4px;top:873.6px;color:#ffe800;">0.024</span>
<span class="t e" style="left:3111.0px;top:1863.6px;">anger</span>
<span class="t" style="left:5399.0px;top:2203.6px;">0.1</span>
</div></div>
<div class="txw" style="filter:url(#s7)"><div class="tx">
<span class="t e" style="left:310.0px;top:1123.6px;">surprise</span>
<span class="t e" style="left:310.0px;top:2113.6px;">contempt</span>
<span class="t e" style="left:3111.0px;top:873.6px;">sad</span>
<span class="t" style="left:5399.0px;top:1653.6px;">0.3</span>
</div></div>
<div class="txw" style="filter:url(#s8)"><div class="tx">
<span class="t m" style="left:464.0px;top:873.6px;color:#ffe800;">0.066</span>
<span class="t m" style="left:712.0px;top:873.6px;color:#ffe800;">0.003</span>
<span class="t m" style="left:960.0px;top:873.6px;color:#4e0055;">0.65</span>
<span class="t m" style="left:1208.0px;top:873.6px;color:#ffe800;">0.018</span>
<span class="t m" style="left:1456.0px;top:873.6px;color:#ffe800;">0.072</span>
<span class="t m" style="left:1704.0px;top:873.6px;color:#ffe800;">0.081</span>
<span class="t m" style="left:1952.0px;top:873.6px;color:#ffe800;">0.11</span>
<span class="t m" style="left:2200.0px;top:873.6px;color:#ffe800;">0</span>
<span class="t m" style="left:464.0px;top:1863.6px;color:#ffe800;">0.071</span>
<span class="t m" style="left:712.0px;top:1863.6px;color:#ffe800;">0</span>
<span class="t m" style="left:960.0px;top:1863.6px;color:#ffe800;">0.1</span>
<span class="t m" style="left:1208.0px;top:1863.6px;color:#ffe800;">0.0097</span>
<span class="t m" style="left:1456.0px;top:1863.6px;color:#ffe800;">0.074</span>
<span class="t m" style="left:1704.0px;top:1863.6px;color:#ffe800;">0.087</span>
<span class="t m" style="left:1952.0px;top:1863.6px;color:#4e0055;">0.65</span>
<span class="t m" style="left:2200.0px;top:1863.6px;color:#ffe800;">0</span>
<span class="t" style="left:2599.0px;top:223.6px;">0.6</span>
<span class="t m" style="left:3264.6px;top:1613.6px;color:#ffe800;">0.031</span>
<span class="t m" style="left:3511.7px;top:1613.6px;color:#ffe800;">0.057</span>
<span class="t m" style="left:3758.8px;top:1613.6px;color:#ffe800;">0.15</span>
<span class="t m" style="left:4005.9px;top:1613.6px;color:#ffe800;">0.0044</span>
<span class="t m" style="left:4253.1px;top:1613.6px;color:#ffe800;">0.11</span>
<span class="t m" style="left:4500.2px;top:1613.6px;color:#4e0055;">0.61</span>
<span class="t m" style="left:4747.3px;top:1613.6px;color:#ffe800;">0.035</span>
<span class="t m" style="left:4994.4px;top:1613.6px;color:#ffe800;">0.0044</span>
<span class="t" style="left:5399.0px;top:1103.6px;">0.5</span>
</div></div>
<div class="txw" style="filter:url(#s9)"><div class="tx">
<span class="t e" style="left:310.0px;top:873.6px;">sad</span>
<span class="t e" style="left:310.0px;top:1863.6px;">anger</span>
<span class="t" style="left:2599.0px;top:973.6px;">0.4</span>
<span class="t m" style="left:3264.6px;top:623.6px;color:#ffe800;">0.017</span>
<span class="t m" style="left:3511.7px;top:623.6px;color:#4e0055;">0.9</span>
<span class="t m" style="left:3758.8px;top:623.6px;color:#ffe800;">0.024</span>
<span class="t m" style="left:4005.9px;top:623.6px;color:#ffe800;">0</span>
<span class="t m" style="left:4253.1px;top:623.6px;color:#ffe800;">0.034</span>
<span class="t m" style="left:4500.2px;top:623.6px;color:#ffe800;">0</span>
<span class="t m" style="left:4747.3px;top:623.6px;color:#ffe800;">0.0024</span>
<span class="t m" style="left:4994.4px;top:623.6px;color:#ffe800;">0.027</span>
<span class="t e" style="left:3111.0px;top:1613.6px;">disgust</span>
</div></div>
<div class="txw" style="filter:url(#s10)"><div class="tx">
<span class="t" style="left:2599.0px;top:1723.6px;">0.2</span>
<span class="t m" style="left:3264.6px;top:2283.6px;">neutral</span>
<span class="t e" style="left:3111.0px;top:623.6px;">happy</span>
<span class="t m" style="left:3511.7px;top:2283.6px;">happy</span>
<span class="t m" style="left:3758.8px;top:2283.6px;">sad</span>
<span class="t m" style="left:4005.9px;top:2283.6px;">surprise</span>
<span class="t m" style="left:4253.1px;top:2283.6px;">fear</span>
<span class="t m" style="left:4500.2px;top:2283.6px;">disgust</span>
<span class="t m" style="left:4747.3px;top:2283.6px;">anger</span>
<span class="t m" style="left:4994.4px;top:2283.6px;">contempt</span>
<span class="t" style="left:5399.0px;top:553.6px;">0.7</span>
</div></div>
<div class="cap" id="ca"><span style="left:61.10px;transform:scaleX(0.979)">(<b>a</b>)</span> <span style="left:76.80px;transform:scaleX(1.064)">Results</span> <span style="left:113.30px;transform:scaleX(1.053)">of</span> <span style="left:125.30px;transform:scaleX(1.215)">upper</span> <span style="left:157.50px;transform:scaleX(1.135)">part</span> <span style="left:179.20px;transform:scaleX(1.133)">of</span> <span style="left:191.80px;transform:scaleX(0.964)">face</span></div>
<div class="cap" id="cb"><span style="left:341.10px;transform:scaleX(1.018)">(<b>b</b>)</span> <span style="left:358.00px;transform:scaleX(1.058)">Results</span> <span style="left:394.30px;transform:scaleX(1.053)">of</span> <span style="left:406.50px;transform:scaleX(1.090)">lower</span> <span style="left:436.80px;transform:scaleX(1.141)">part</span> <span style="left:458.70px;transform:scaleX(1.155)">of</span> <span style="left:471.70px;transform:scaleX(0.975)">face</span></div>
</body></html>
